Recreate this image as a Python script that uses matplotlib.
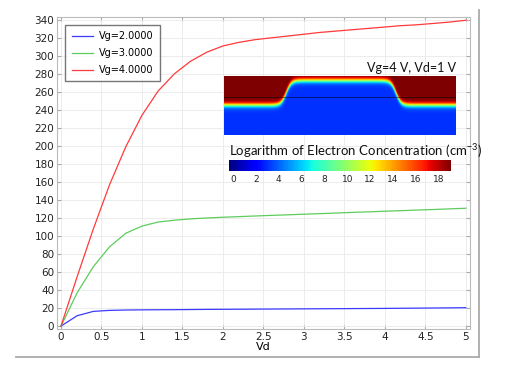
import numpy as np
import matplotlib
matplotlib.use("Agg")
import matplotlib.pyplot as plt
from matplotlib.lines import Line2D

# drain voltage samples
vd = [0.0, 0.2, 0.4, 0.6, 0.8, 1.0, 1.2, 1.4, 1.6, 1.8, 2.0, 2.2, 2.4,
      2.6, 2.8, 3.0, 3.2, 3.4, 3.6, 3.8, 4.0, 4.2, 4.4, 4.6, 4.8, 5.0]

vg2 = [0, 11.5, 16.3, 17.4, 17.8, 18.0, 18.1, 18.2, 18.35, 18.5, 18.6, 18.7, 18.8,
       18.9, 19.0, 19.1, 19.2, 19.3, 19.4, 19.5, 19.6, 19.75, 19.9, 20.05, 20.2, 20.4]
vg3 = [0, 37, 66, 88, 103, 111, 115.5, 117.5, 119, 120, 120.8, 121.5, 122.2,
       122.9, 123.5, 124.2, 124.8, 125.5, 126.2, 126.8, 127.5, 128.1, 128.8, 129.4, 130.1, 130.8]
vg4 = [0, 55, 108, 157, 199, 234, 261, 280, 294, 304, 311, 315, 318,
       320, 322, 324, 326, 327.5, 329, 330.5, 332, 333.5, 334.5, 336, 337.5, 339.5]

labels = ["Vg=2.0000", "Vg=3.0000", "Vg=4.0000"]
colors = ["#3a3aff", "#5ccc5c", "#ff3a3a"]

# inset geometry: electron-rich depth (fraction of height) and channel edges
side_depth = 0.49
channel_depth = 0.07
channel_edges = [0.268, 0.742]
log_min, log_max = 3.0, 19.2

fig = plt.figure(figsize=(5.13, 3.66), dpi=100)
ax = fig.add_axes([0.111, 0.101, 0.805, 0.853])

for y, lab, c in zip([vg2, vg3, vg4], labels, colors):
    ax.plot(vd, y, color=c, lw=0.9, label=lab)

ax.set_xlim(-0.05, 5.05)
ax.set_ylim(-3.3, 343.3)
ax.set_xticks(np.arange(0, 5.01, 0.5))
ax.set_xticklabels(["0", "0.5", "1", "1.5", "2", "2.5", "3", "3.5", "4", "4.5", "5"])
ax.set_yticks(np.arange(0, 341, 20))
ax.grid(True, color="#ececec", lw=0.7)
ax.tick_params(direction="in", length=3, color="#aaaaaa", labelsize=7.5,
               labelcolor="#222222", top=True, right=True, pad=2)
for s in ax.spines.values():
    s.set_color("#bbbbbb")
    s.set_linewidth(0.8)
ax.set_xlabel("Vd", fontsize=8, labelpad=0)

leg = ax.legend(loc="upper left", fontsize=7, frameon=True, fancybox=False,
                borderaxespad=0.85, borderpad=0.65, handlelength=2.2,
                labelspacing=0.7, handletextpad=0.6)
leg.get_frame().set_edgecolor("#555555")
leg.get_frame().set_linewidth(1.0)

# inset concentration map
iax = fig.add_axes([0.4366, 0.631, 0.452, 0.161])
u = np.linspace(0, 1, 500)
v = np.linspace(0, 1, 150)
U, V = np.meshgrid(u, v)
step = 1 / (1 + np.exp(-(U - channel_edges[0]) / 0.011)) - 1 / (1 + np.exp(-(U - channel_edges[1]) / 0.011))
depth = side_depth + (channel_depth - side_depth) * step
field = log_min + (log_max - log_min) / (1 + np.exp(-(depth - V) / 0.025))
iax.imshow(field, cmap="jet", vmin=-0.35, vmax=19, aspect="auto",
           extent=[0, 1, 1, 0], interpolation="bilinear")
iax.axhline(0.36, color="black", lw=0.5, alpha=0.7)
iax.set_xlim(0, 1)
iax.set_ylim(1, 0)
iax.axis("off")
fig.text(0.889, 0.814, "Vg=4 V, Vd=1 V", ha="right", va="center",
         fontsize=9, family="Lato", color="#111111")

# colour bar
cax = fig.add_axes([0.4464, 0.533, 0.431, 0.030])
grad = np.linspace(-0.35, 19, 300)[None, :]
cax.imshow(grad, cmap="jet", vmin=-0.35, vmax=19, aspect="auto",
           extent=[-0.35, 19, 0, 1])
cax.set_yticks([])
cax.set_xticks(np.arange(0, 19, 2))
cax.tick_params(length=0, labelsize=6.5, pad=3, labelcolor="#222222")
for s in cax.spines.values():
    s.set_visible(False)
fig.text(0.4464, 0.588, "Logarithm of Electron Concentration (cm$^{\\mathregular{-3}}$)",
         ha="left", va="center", fontsize=9.5, family="Lato", color="#111111")

# page frame
fig.add_artist(Line2D([0.934, 0.934], [0.025, 0.972], color="#aaaaaa", lw=1.3))
fig.add_artist(Line2D([0.031, 0.934], [0.025, 0.025], color="#aaaaaa", lw=1.3))

fig.savefig("out.png", dpi=100)
